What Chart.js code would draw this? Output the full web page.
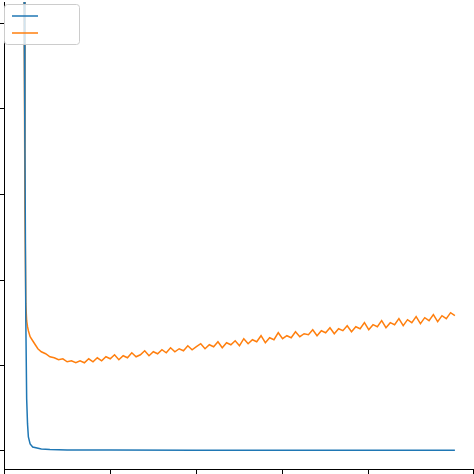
<!DOCTYPE html><html><head><script src="https://cdn.jsdelivr.net/npm/chart.js@4"></script>
<style>body{margin:0;background:#fff}#w{width:474px;height:474px}</style></head><body><div id="w"><canvas id="c"></canvas></div>
<script>
const blueX=[0,1,2,3,4,5,7,10,15,20,30,50,100,200,300,400,500];
const blueY=[470,320,150,70,45,32,25,22,21,20,19.5,19,19,18.8,18.8,18.8,18.8];
const orangeX=[0,1,2,3,4,5,7,10,13,16,20,25,30,35,40,45,50,55,60,65,70,75,80,85,90,95,100,105,110,115,120,125,130,135,140,145,150,155,160,165,170,175,180,185,190,195,200,205,210,215,220,225,230,235,240,245,250,255,260,265,270,275,280,285,290,295,300,305,310,315,320,325,330,335,340,345,350,355,360,365,370,375,380,385,390,395,400,405,410,415,420,425,430,435,440,445,450,455,460,465,470,475,480,485,490,495,500];
const orangeY=[480,260,165,148,142,138,132,128,124,120,117,115,112,111,109,110,107,108,106,108,106,110,107,111,108,112,110,114,109,113,111,116,112,114,118,113,117,115,119,116,121,117,120,118,123,119,122,125,120,124,122,127,121,126,124,128,123,130,125,129,127,133,126,131,129,136,130,133,131,137,132,135,134,139,133,138,136,141,135,140,138,143,137,142,140,146,139,144,142,148,141,146,144,150,143,149,146,152,145,151,148,154,147,153,150,156,153];
const yTicks=[18,103,188,274,360,445];
const toPts=(xs,ys)=>xs.map((x,i)=>({x,y:ys[i]}));
const legendBox={id:'lb',afterDraw(ch){const c=ch.ctx;c.save();c.fillStyle='rgba(255,255,255,0.8)';c.strokeStyle='#ccc';c.lineWidth=1;
c.beginPath();c.roundRect(4.5,4.5,75,40,3);c.fill();c.stroke();
ch.data.datasets.forEach((d,i)=>{c.strokeStyle=d.borderColor;c.lineWidth=1.5;c.beginPath();const y=16+i*17;c.moveTo(12,y);c.lineTo(38,y);c.stroke();});c.restore();}};
new Chart(document.getElementById('c'),{type:'line',data:{datasets:[
{data:toPts(blueX,blueY),borderColor:'#1f77b4',borderWidth:1.5,pointRadius:0,tension:0},
{data:toPts(orangeX,orangeY),borderColor:'#ff7f0e',borderWidth:1.5,pointRadius:0,tension:0}]},
options:{responsive:true,maintainAspectRatio:false,animation:false,layout:{padding:{top:2,right:1,left:0,bottom:0}},
plugins:{legend:{display:false},tooltip:{enabled:false}},
scales:{x:{type:'linear',min:-23.3,max:521,ticks:{display:false,stepSize:100},grid:{drawOnChartArea:false,tickLength:5,color:'#000'},border:{color:'#000'}},
y:{min:0,max:466,afterBuildTicks:s=>{s.ticks=yTicks.map(v=>({value:v}));},ticks:{display:false},grid:{drawOnChartArea:false,tickLength:4,color:'#000'},border:{color:'#000'}}}},
plugins:[legendBox]});
</script></body></html>
